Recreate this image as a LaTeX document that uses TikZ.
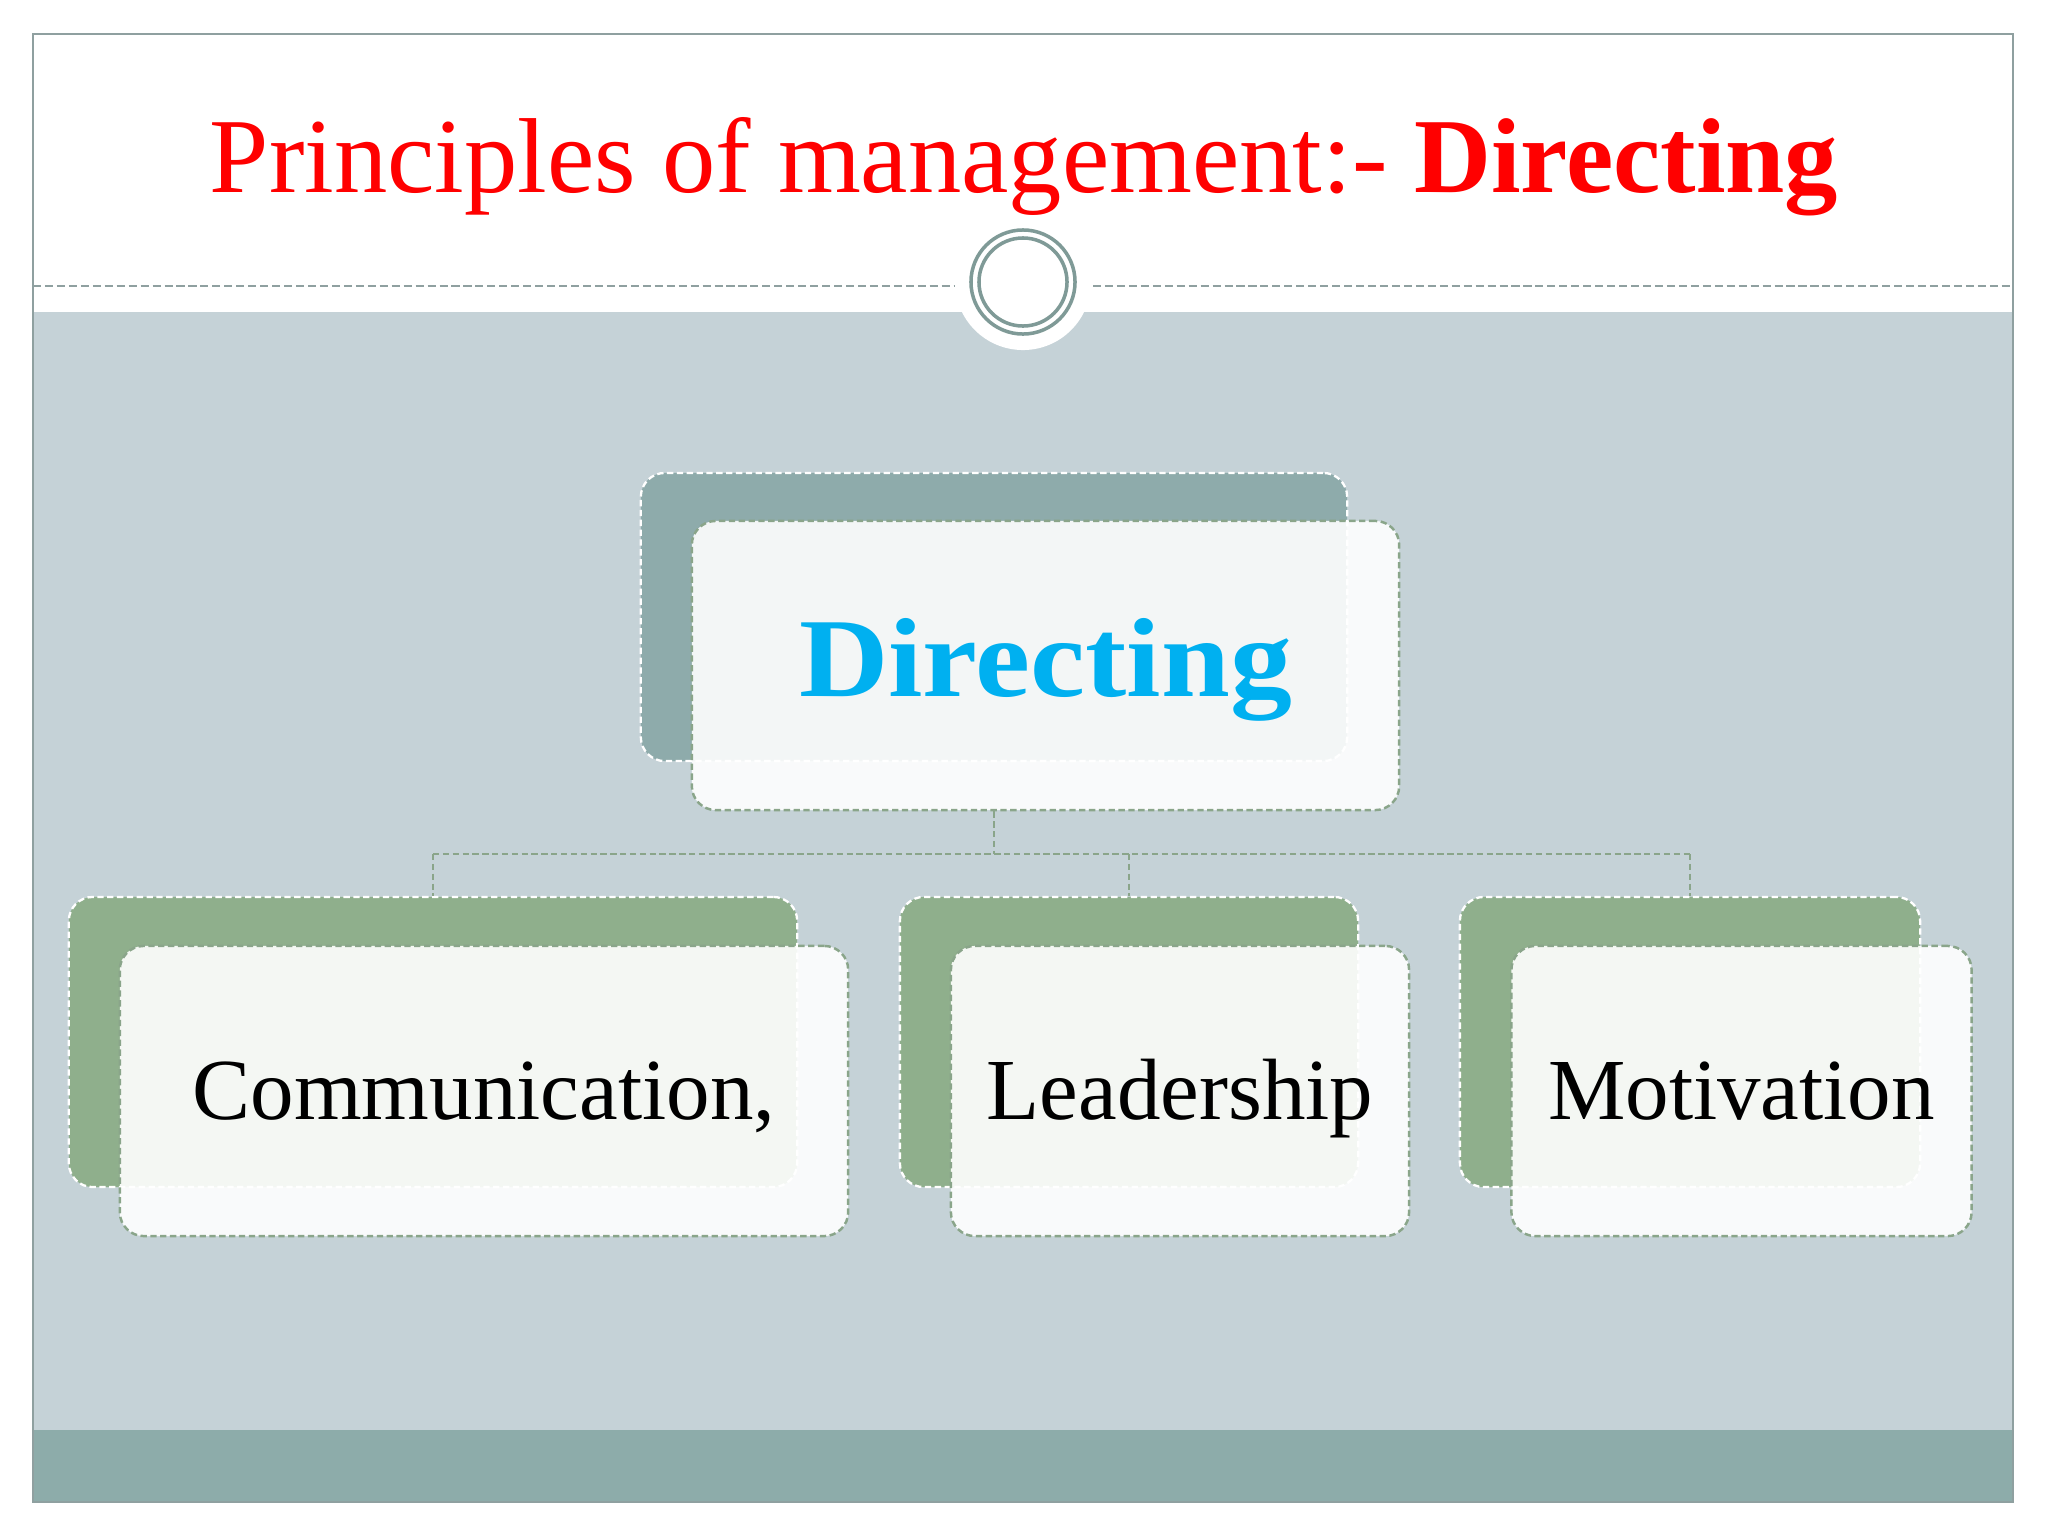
\documentclass[tikz,border=0pt]{standalone}
\usepackage{fontspec}
\setmainfont{Liberation Serif}
\usetikzlibrary{calc}
\definecolor{bandgray}{HTML}{C5D2D7}
\definecolor{tealband}{HTML}{8DACAA}
\definecolor{topbackc}{HTML}{8EABAB}
\definecolor{greenback}{HTML}{8FAF8C}
\definecolor{framegray}{HTML}{8FA0A0}
\definecolor{ringgray}{HTML}{7F9A97}
\definecolor{dashgreen}{HTML}{8AA58A}
\definecolor{titlered}{HTML}{FF0000}
\definecolor{dirblue}{HTML}{00B0F0}
\newcommand{\dropbase}[2]{\raisebox{-#1}[0pt][0pt]{#2}}
\begin{document}
\begin{tikzpicture}[x=0.01cm,y=-0.01cm,
  dsh/.style={dash pattern=on 1.8pt off 1pt},
  backbox/.style={draw=white, dsh, line width=0.65pt, rounded corners=0.24cm, inner sep=0pt},
  frontbox/.style={draw=dashgreen, dsh, line width=0.7pt, rounded corners=0.24cm, fill=white, fill opacity=0.9, text opacity=1, inner sep=0pt},
  conn/.style={draw=dashgreen, dsh, line width=0.65pt},
  childtext/.style={font=\fontsize{24.75}{30}\selectfont}
]
\useasboundingbox (0,0) rectangle (2048,1536);
% slide background
\fill[white] (33,34) rectangle (2013,1502);
\fill[bandgray] (33,312) rectangle (2013,1430);
\fill[tealband] (33,1430) rectangle (2013,1502);
% header line and ring
\coordinate (ring) at (1023,282);
\draw[framegray, line width=0.45pt, dash pattern=on 2.3pt off 1.1pt] (33,286) -- (955,286);
\draw[framegray, line width=0.45pt, dash pattern=on 2.3pt off 1.1pt] (1093,286) -- (2013,286);
\fill[white] (ring) circle (0.68cm);
\draw[ringgray, line width=1pt] (ring) circle (0.52cm);
\draw[ringgray, line width=1pt] (ring) circle (0.44cm);
% title
\node[anchor=base, text=titlered, font=\fontsize{30.3}{36}\selectfont, inner sep=0pt] (title) at (1024,192) {Principles of management:- \textbf{Directing}};
% top box
\node[backbox, fill=topbackc, minimum width=7.06cm, minimum height=2.88cm] (topB) at (994,617) {};
\node[frontbox, minimum width=7.07cm, minimum height=2.89cm, font=\fontsize{32}{38}\selectfont\bfseries] (topF) at (1045.5,665.5) {\dropbase{8.7pt}{\textcolor{dirblue}{\scalebox{1.1}[1]{Directing}}}};
% child boxes
\node[backbox, fill=greenback, minimum width=7.28cm, minimum height=2.90cm] (c1B) at (433,1042) {};
\node[frontbox, childtext, minimum width=7.28cm, minimum height=2.90cm] (c1F) at (484,1091) {\dropbase{8pt}{Communication,}};
\node[backbox, fill=greenback, minimum width=4.58cm, minimum height=2.90cm] (c2B) at (1129,1042) {};
\node[frontbox, childtext, minimum width=4.58cm, minimum height=2.90cm] (c2F) at (1180,1091) {\dropbase{8pt}{Leadership}};
\node[backbox, fill=greenback, minimum width=4.60cm, minimum height=2.90cm] (c3B) at (1690,1042) {};
\node[frontbox, childtext, minimum width=4.60cm, minimum height=2.90cm] (c3F) at (1741.5,1091) {\dropbase{8pt}{Motivation}};
% connectors
\coordinate (bus) at (994,854);
\draw[conn] (topB.south |- topF.south) -- (topB.south |- bus);
\draw[conn] (c1B.north |- bus) -- (c3B.north |- bus);
\draw[conn] (c1B.north |- bus) -- (c1B.north);
\draw[conn] (c2B.north |- bus) -- (c2B.north);
\draw[conn] (c3B.north |- bus) -- (c3B.north);
% frame
\draw[framegray, line width=0.6pt] (33,34) rectangle (2013,1502);
\end{tikzpicture}
\end{document}
